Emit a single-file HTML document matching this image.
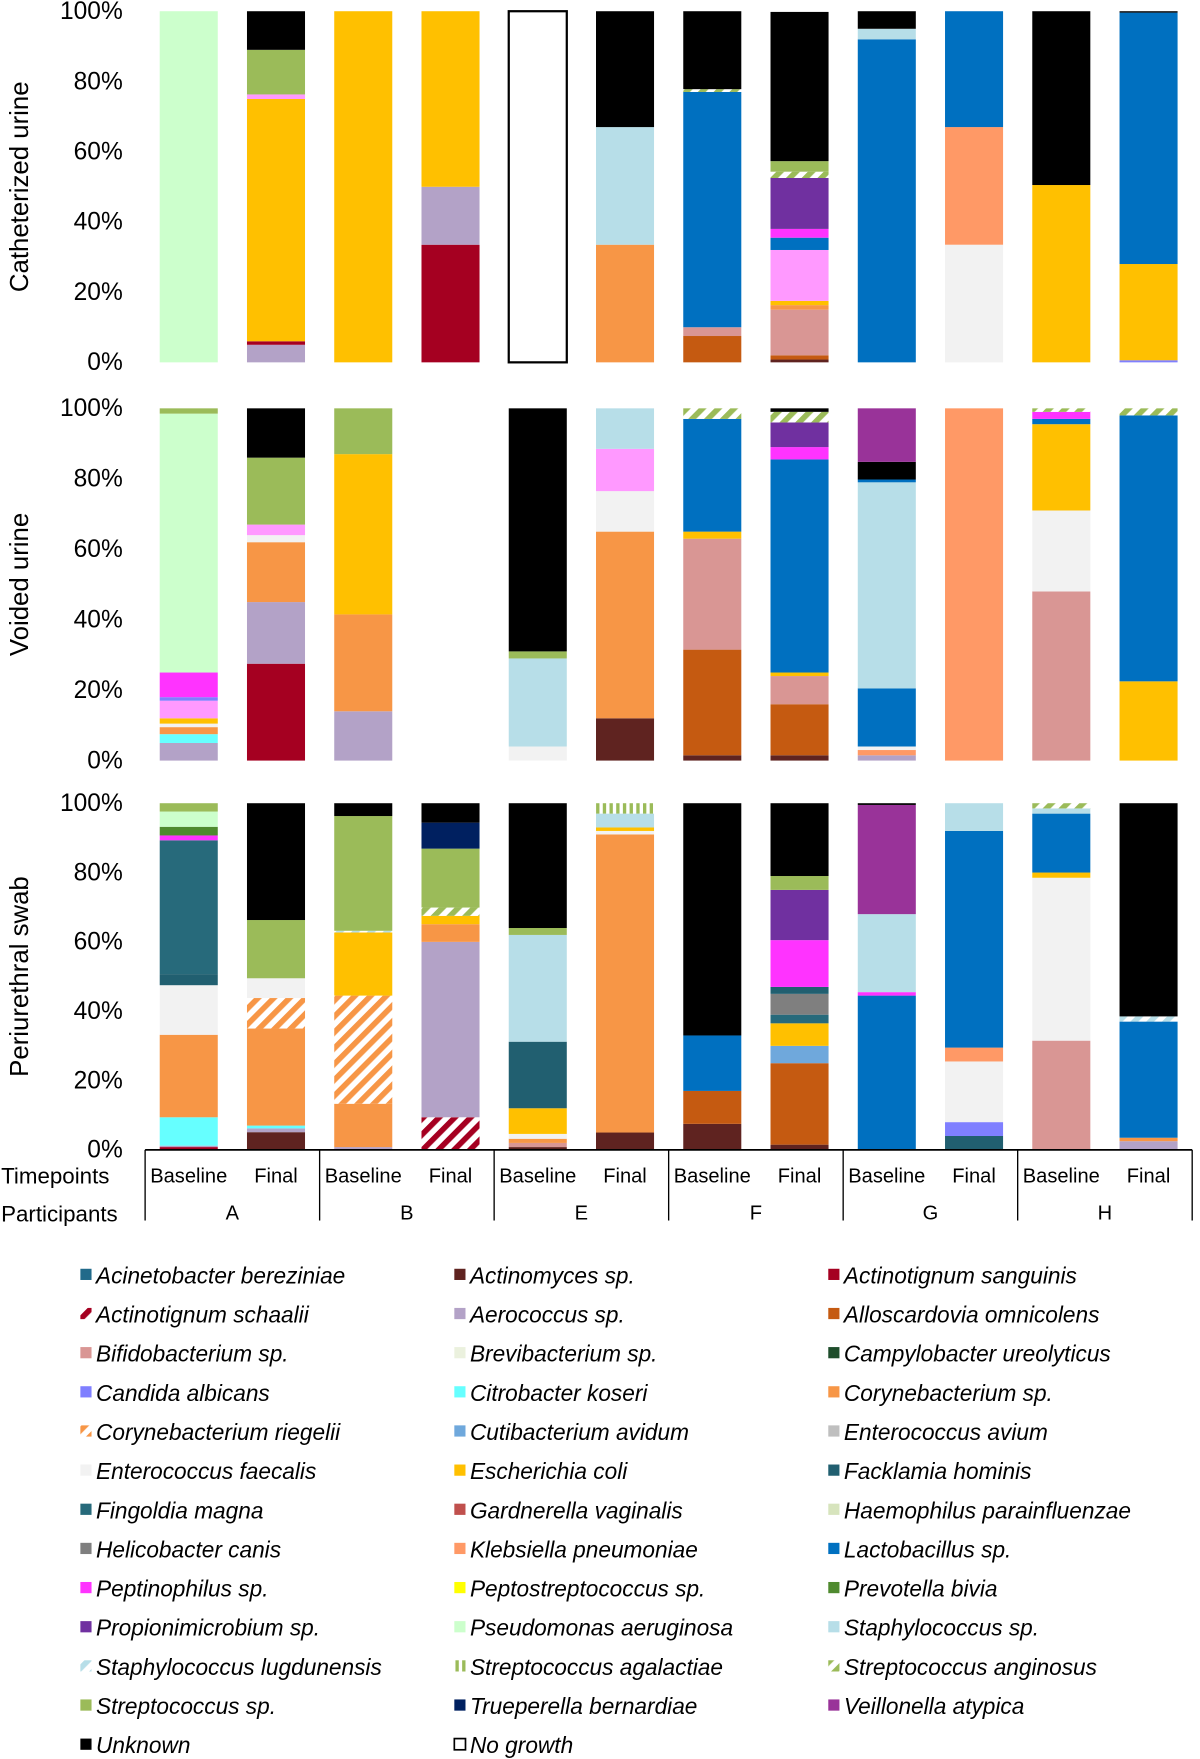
<!DOCTYPE html>
<html><head><meta charset="utf-8"><style>
html,body{margin:0;padding:0;background:#fff;}
svg{display:block;}
text{font-family:"Liberation Sans",Arial,sans-serif;fill:#000;}
</style></head><body>
<svg id="chart" width="1200" height="1759" viewBox="0 0 1075 1568" preserveAspectRatio="none" xmlns="http://www.w3.org/2000/svg">
<defs>
<pattern id="p-riegelii" patternUnits="userSpaceOnUse" width="10" height="10" patternTransform="rotate(45)"><rect width="10" height="10" fill="#fff"/><rect width="5" height="10" fill="#f79646"/></pattern>
<pattern id="p-schaalii" patternUnits="userSpaceOnUse" width="10" height="10" patternTransform="rotate(45)"><rect width="10" height="10" fill="#fff"/><rect width="5" height="10" fill="#a50021"/></pattern>
<pattern id="p-anginosus" patternUnits="userSpaceOnUse" width="10" height="10" patternTransform="rotate(45)"><rect width="10" height="10" fill="#fff"/><rect width="5" height="10" fill="#9bbb59"/></pattern>
<pattern id="p-lugdunensis" patternUnits="userSpaceOnUse" width="10" height="10" patternTransform="rotate(45)"><rect width="10" height="10" fill="#fff"/><rect width="5" height="10" fill="#b7dee8"/></pattern>
<pattern id="p-agalactiae" patternUnits="userSpaceOnUse" width="6" height="6"><rect width="6" height="6" fill="#fff"/><rect width="3" height="6" fill="#9bbb59"/></pattern>
</defs>
<g id="plot"></g>
<g id="axis"></g>
<g id="legend"></g>
</svg>
<script>
const NS='http://www.w3.org/2000/svg';
// ---- data ----
const participants=['A','B','E','F','G','H'];
const timepoints=['Baseline','Final'];
const panels=['Catheterized urine','Voided urine','Periurethral swab'];
const yTicks=[0,20,40,60,80,100];
const species=['acineto','actinomyces','sanguinis','schaalii','aerococcus','allosc','bifido','brevi','campylo','candida','citro','coryne','riegelii','cuti','entavium','faecalis','ecoli','facklamia','fingoldia','gardnerella','haemophilus','helico','klebsiella','lacto','peptin','peptostrep','prevotella','propioni','pseudomonas','staph','lugdunensis','agalactiae','anginosus','strep','trueperella','veillonella','unknown','nogrowth','pinklight'];
const speciesLabels=['Acinetobacter bereziniae','Actinomyces sp.','Actinotignum sanguinis','Actinotignum schaalii','Aerococcus sp.','Alloscardovia omnicolens','Bifidobacterium sp.','Brevibacterium sp.','Campylobacter ureolyticus','Candida albicans','Citrobacter koseri','Corynebacterium sp.','Corynebacterium riegelii','Cutibacterium avidum','Enterococcus avium','Enterococcus faecalis','Escherichia coli','Facklamia hominis','Fingoldia magna','Gardnerella vaginalis','Haemophilus parainfluenzae','Helicobacter canis','Klebsiella pneumoniae','Lactobacillus sp.','Peptinophilus sp.','Peptostreptococcus sp.','Prevotella bivia','Propionimicrobium sp.','Pseudomonas aeruginosa','Staphylococcus sp.','Staphylococcus lugdunensis','Streptococcus agalactiae','Streptococcus anginosus','Streptococcus sp.','Trueperella bernardiae','Veillonella atypica','Unknown','No growth'];
const speciesFills=['#216a8a','#5f2320','#a50021','url(#p-schaalii)','#b3a2c7','#c55a11','#d99694','#ebf1de','#1e4d2b','#7f7fff','#66ffff','#f79646','url(#p-riegelii)','#6fa8dc','#bfbfbf','#f2f2f2','#ffc000','#215f70','#276a7b','#c0504d','#d7e4bd','#7f7f7f','#ff9966','#0070c0','#ff33ff','#ffff00','#4f8a2f','#7030a0','#ccffcc','#b7dee8','url(#p-lugdunensis)','url(#p-agalactiae)','url(#p-anginosus)','#9bbb59','#002060','#993399','#000000','#ffffff','#ff99ff'];
// segments per bar: [species, height %], bottom to top. order: A-B, A-F, B-B, B-F, E-B, E-F, F-B, F-F, G-B, G-F, H-B, H-F
const cathSegments=[
 [['pseudomonas',100]],
 [['aerococcus',5],['sanguinis',1],['ecoli',69],['pinklight',1.3],['strep',12.7],['unknown',11]],
 [['ecoli',100]],
 [['sanguinis',33.5],['aerococcus',16.5],['ecoli',50]],
 [['nogrowth',100]],
 [['coryne',33.5],['staph',33.5],['unknown',33]],
 [['allosc',7.5],['bifido',2.5],['lacto',67],['anginosus',0.8],['unknown',22.2]],
 [['actinomyces',0.8],['allosc',1.2],['bifido',13],['coryne',1.3],['ecoli',1.2],['pinklight',14.5],['lacto',3.5],['peptin',2.5],['propioni',14.5],['anginosus',1.8],['strep',3],['unknown',42.5]],
 [['lacto',92],['staph',3],['unknown',5]],
 [['faecalis',33.5],['klebsiella',33.5],['lacto',33]],
 [['ecoli',50.5],['unknown',49.5]],
 [['candida',0.6],['ecoli',27.4],['lacto',71.6],['unknown',0.4]]
];
const voidSegments=[
 [['aerococcus',5],['citro',2.5],['coryne',2],['faecalis',1],['ecoli',1.5],['pinklight',5],['candida',1],['peptin',7],['pseudomonas',73.5],['strep',1.5]],
 [['sanguinis',27.5],['aerococcus',17.5],['coryne',17],['faecalis',2],['pinklight',3],['strep',19],['unknown',14]],
 [['aerococcus',14],['coryne',27.5],['ecoli',45.5],['strep',13]],
 [],
 [['faecalis',4],['staph',25],['strep',2],['unknown',69]],
 [['actinomyces',12],['coryne',53],['faecalis',11.5],['pinklight',12],['staph',11.5]],
 [['actinomyces',1.5],['allosc',30],['bifido',31.5],['ecoli',2],['lacto',32],['anginosus',3]],
 [['actinomyces',1.5],['allosc',14.5],['bifido',8],['ecoli',1],['lacto',60.5],['peptin',3.5],['propioni',7],['anginosus',3],['unknown',1]],
 [['aerococcus',1.5],['klebsiella',1.5],['faecalis',1],['lacto',16.5],['staph',58.5],['lacto',0.8],['unknown',5],['veillonella',15.2]],
 [['klebsiella',100]],
 [['bifido',48],['faecalis',23],['ecoli',24.5],['lacto',1.5],['peptin',2],['anginosus',1]],
 [['ecoli',22.5],['lacto',75.5],['anginosus',2]]
];
const periSegments=[
 [['sanguinis',0.8],['aerococcus',0.4],['citro',8.2],['coryne',23.8],['faecalis',14.3],['facklamia',3.2],['fingoldia',38.6],['peptin',1.4],['prevotella',2.5],['pseudomonas',4.4],['strep',2.4]],
 [['actinomyces',5.1],['aerococcus',1.1],['citro',0.8],['coryne',28],['riegelii',8.8],['faecalis',5.7],['strep',16.8],['unknown',33.7]],
 [['aerococcus',0.8],['coryne',12.5],['riegelii',31.2],['ecoli',18.2],['lugdunensis',0.5],['strep',33.1],['unknown',3.7]],
 [['schaalii',9.4],['aerococcus',50.6],['coryne',5.1],['ecoli',2.4],['anginosus',2.4],['strep',17],['trueperella',7.5],['unknown',5.6]],
 [['actinomyces',0.8],['bifido',1.2],['coryne',1.2],['faecalis',1.4],['ecoli',7.4],['facklamia',19.2],['staph',30.8],['strep',2],['unknown',36]],
 [['actinomyces',5],['coryne',86],['faecalis',1],['ecoli',1],['staph',4],['agalactiae',3]],
 [['actinomyces',7.5],['allosc',9.5],['lacto',16],['unknown',67]],
 [['actinomyces',1.5],['allosc',23.5],['cuti',5],['ecoli',6.5],['fingoldia',2.5],['helico',6],['facklamia',2],['peptin',13.5],['propioni',14.5],['strep',4],['unknown',21]],
 [['lacto',44.5],['peptin',1],['staph',22.5],['veillonella',31.5],['unknown',0.5]],
 [['facklamia',4],['candida',4],['faecalis',17.5],['klebsiella',4],['lacto',62.5],['staph',8]],
 [['bifido',31.5],['faecalis',47],['ecoli',1.5],['lacto',17],['staph',1.5],['anginosus',1.5]],
 [['aerococcus',2.5],['coryne',1],['lacto',33.5],['lugdunensis',1.5],['unknown',61.5]]
];
// ---- layout ----
const panelBox=[{top:10,bottom:323},{top:364,bottom:678},{top:716,bottom:1025}];
const axisX0=130, axisX1=1068, barW=52;
const allSegs=[cathSegments,voidSegments,periSegments];
function xCenter(i){return axisX0+(axisX1-axisX0)/12*(i+0.5);}
function yScale(p,v){const b=panelBox[p];return b.bottom-(b.bottom-b.top)*v/100;}
function fillOf(k){return speciesFills[species.indexOf(k)];}
function mk(tag,attrs,parent){const e=document.createElementNS(NS,tag);for(const k in attrs)e.setAttribute(k,attrs[k]);parent.appendChild(e);return e;}
const plot=document.getElementById('plot');
const axis=document.getElementById('axis');
const legend=document.getElementById('legend');
panels.forEach((name,p)=>{
  const t=mk('text',{x:0,y:0,'font-size':23,'text-anchor':'middle',transform:`translate(25,${(panelBox[p].top+panelBox[p].bottom)/2}) rotate(-90)`},axis);
  t.textContent=name;
  
  
  yTicks.forEach(v=>{
    const tt=mk('text',{x:110,y:yScale(p,v)+7,'font-size':22,'text-anchor':'end'},axis);
    tt.textContent=v+'%';
    
    
  });
  allSegs[p].forEach((segs,i)=>{
    let cum=0;
    segs.forEach(([k,v])=>{
      const y1=yScale(p,cum+v), y0=yScale(p,cum);
      const r=mk('rect',{x:xCenter(i)-barW/2,y:y1,width:barW,height:Math.max(0,y0-y1),fill:fillOf(k)},plot);
      if(k==='nogrowth'){r.setAttribute('stroke','#000');r.setAttribute('stroke-width','2');}
      
      
      cum+=v;
    });
  });
});
// x axis
const al=mk('line',{x1:axisX0,x2:axisX1,y1:1025,y2:1025,stroke:'#000','stroke-width':1.5},axis);


for(let g=0;g<=6;g++){
  const x=axisX0+(axisX1-axisX0)/6*g;
  const d=mk('line',{x1:x,x2:x,y1:1025,y2:1088,stroke:'#000','stroke-width':1.2},axis);
  
  
}
for(let i=0;i<12;i++){
  const t=mk('text',{x:xCenter(i),y:1054,'font-size':18,'text-anchor':'middle'},axis);
  t.textContent=timepoints[i%2];
  
  
}
participants.forEach((pp,g)=>{
  const t=mk('text',{x:axisX0+(axisX1-axisX0)/6*(g+0.5),y:1087,'font-size':18,'text-anchor':'middle'},axis);
  t.textContent=pp;
  
  
});
const tl=mk('text',{x:1,y:1055,'font-size':20},axis);tl.textContent='Timepoints';


const pl=mk('text',{x:1,y:1089,'font-size':20},axis);pl.textContent='Participants';


// legend
const colX=[72,407,742];
speciesLabels.forEach((lab,i)=>{
  const r=Math.floor(i/3), c=i%3, y=1137+r*34.9;
  const g=mk('g',{},legend);
  
  
  const sw=mk('rect',{x:colX[c],y:y-6,width:10,height:10,fill:speciesFills[i]},g);
  if(species[i]==='nogrowth'){sw.setAttribute('stroke','#000');sw.setAttribute('stroke-width','1.5');}
  const t=mk('text',{x:colX[c]+14,y:y+7,'font-size':20.3,'font-style':'italic'},g);
  t.textContent=lab;
});
</script>
</body></html>
